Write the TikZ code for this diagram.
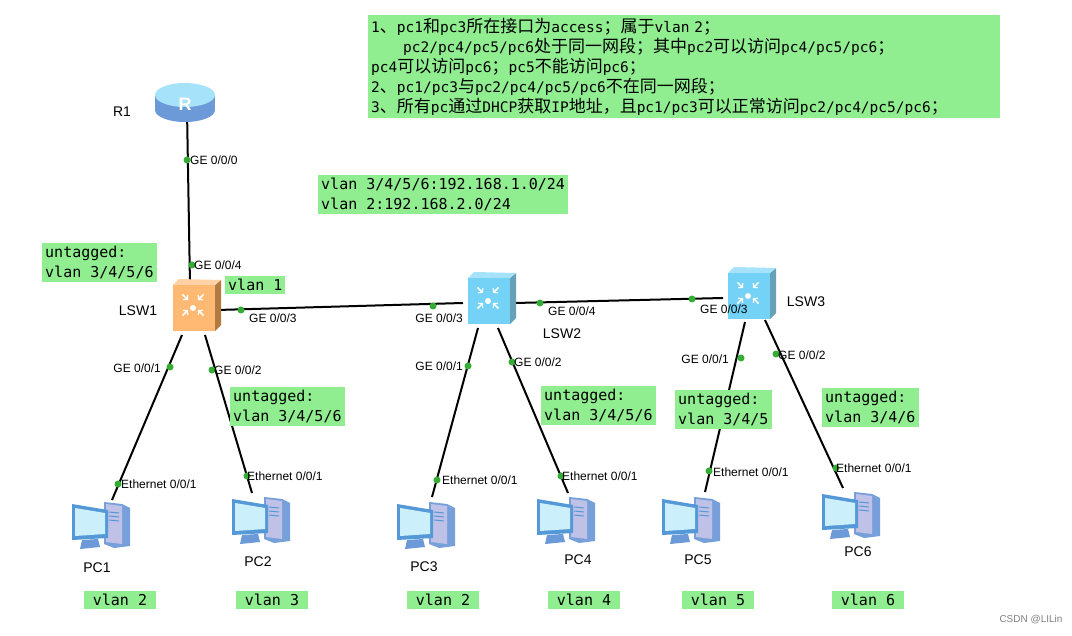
\documentclass[tikz,border=0pt]{standalone}
\usepackage{fontspec}
\setmainfont{Liberation Sans}
\newfontfamily\monof{DejaVu Sans Mono}
\newfontfamily\cjk{Noto Sans CJK SC}
\definecolor{lgreen}{RGB}{144,238,144}
\newcommand\cjt[1]{{\cjk\fontsize{17}{20}\selectfont #1}}
\begin{document}
\begin{tikzpicture}[x=1pt,y=-1pt,
  lnk/.style={line width=2pt,black},
  dot/.style={circle,fill=green!60!black!80,inner sep=0pt,minimum size=7pt},
  lab/.style={font=\fontsize{12}{13}\selectfont,inner sep=1pt},
  gbox/.style={fill=lgreen,font=\monof\fontsize{15}{20}\selectfont,align=left,inner sep=3pt,anchor=north west},
  nm/.style={font=\fontsize{14}{15}\selectfont}]
\useasboundingbox (0,0) rectangle (1072,636);
\fill[white] (0,0) rectangle (1072,636);
\def\pc#1#2{%
  \begin{scope}[shift={(#1,#2)}]
   \fill[cyan!50!blue!55] (4,-18) -- (22,-16) -- (30,-12) -- (30,26) -- (14,28) -- (4,24) -- cycle;
   \fill[cyan!25!blue!25] (6,-16) -- (22,-14) -- (22,24) -- (6,22) -- cycle;
   \foreach \yy in {-8,-4,0}{\draw[cyan!60!blue!70,line width=1pt] (9,\yy) -- (19,\yy+1);}
   \fill[cyan!60!blue!70] (-28,-16) -- (8,-10) -- (8,18) -- (-28,20) -- cycle;
   \fill[cyan!20] (-25,-12) -- (5,-7) -- (5,14) -- (-25,16) -- cycle;
   \fill[cyan!50!blue!60] (-18,20) -- (-2,19) -- (0,27) -- (-20,29) -- cycle;
  \end{scope}}
\def\sw#1#2#3{%
  \begin{scope}[shift={(#1,#2)}]
   \fill[#3!60!black!75] (22,-20) -- (28,-25) -- (28,20) -- (22,26) -- cycle;
   \fill[#3!35] (-20,-20) -- (-14,-26) -- (28,-25) -- (22,-20) -- cycle;
   \fill[#3!55] (-20,-20) rectangle (22,26);
   \foreach \a in {45,135,225,315}{\draw[white,line width=1.6pt,->] (\a:15) -- (\a:7);}
   \fill[white] (0,3) circle (3);
  \end{scope}}
% named link end points
\coordinate (R1) at (187,110);
\coordinate (s1u) at (190,285); \coordinate (s1r) at (217,310);
\coordinate (s2l) at (463,303); \coordinate (s2r) at (515,303);
\coordinate (s3l) at (723,298);
\coordinate (s1a) at (182,335); \coordinate (PC1) at (112,500);
\coordinate (s1b) at (205,335); \coordinate (PC2) at (252,493);
\coordinate (s2a) at (478,328); \coordinate (PC3) at (432,497);
\coordinate (s2b) at (498,328); \coordinate (PC4) at (568,493);
\coordinate (s3a) at (745,322); \coordinate (PC5) at (705,492);
\coordinate (s3b) at (765,320); \coordinate (PC6) at (843,488);
\draw[lnk] (R1) -- (s1u);
\draw[lnk] (s1r) -- (s2l);
\draw[lnk] (s2r) -- (s3l);
\draw[lnk] (s1a) -- (PC1);
\draw[lnk] (s1b) -- (PC2);
\draw[lnk] (s2a) -- (PC3);
\draw[lnk] (s2b) -- (PC4);
\draw[lnk] (s3a) -- (PC5);
\draw[lnk] (s3b) -- (PC6);
% router
\begin{scope}[shift={(185,100)}]
 \fill[cyan!50!blue!60] (-30,-5) rectangle (30,10);
 \fill[cyan!50!blue!60] (0,10) ellipse (30 and 12);
 \fill[cyan!35] (0,-5) ellipse (30 and 12);
 \node[white,font=\bfseries\fontsize{18}{18}\selectfont] at (0,4) {R};
\end{scope}
\node[nm] at (122,112) {R1};
\sw{193}{305}{orange}
\sw{488}{298}{cyan}
\sw{748}{293}{cyan}
\pc{100}{520}\pc{260}{515}\pc{425}{520}
\pc{565}{515}\pc{690}{515}\pc{850}{510}
% dots and labels
\node[dot] at (187,160) {}; \node[lab,anchor=west] at (189,160) {GE 0/0/0};
\node[dot] at (192,265) {}; \node[lab,anchor=west] at (193,265) {GE 0/0/4};
\node[dot] at (241,310) {}; \node[lab,anchor=west] at (248,318) {GE 0/0/3};
\node[dot] at (433,306) {}; \node[lab,anchor=east] at (464,318) {GE 0/0/3};
\node[dot] at (540,303) {}; \node[lab,anchor=west] at (547,311) {GE 0/0/4};
\node[dot] at (692,299) {}; \node[lab,anchor=west] at (699,309) {GE 0/0/3};
\node[dot] at (170,367) {}; \node[lab,anchor=east] at (162,368) {GE 0/0/1};
\node[dot] at (212,370) {}; \node[lab,anchor=west] at (213,370) {GE 0/0/2};
\node[dot] at (468,366) {}; \node[lab,anchor=east] at (464,366) {GE 0/0/1};
\node[dot] at (512,362) {}; \node[lab,anchor=west] at (513,362) {GE 0/0/2};
\node[dot] at (741,358) {}; \node[lab,anchor=east] at (730,359) {GE 0/0/1};
\node[dot] at (776,354) {}; \node[lab,anchor=west] at (777,355) {GE 0/0/2};
\node[dot] at (118,484) {}; \node[lab,anchor=west] at (120,484) {Ethernet 0/0/1};
\node[dot] at (247,476) {}; \node[lab,anchor=west] at (246,476) {Ethernet 0/0/1};
\node[dot] at (437,480) {}; \node[lab,anchor=west] at (441,480) {Ethernet 0/0/1};
\node[dot] at (561,476) {}; \node[lab,anchor=west] at (561,476) {Ethernet 0/0/1};
\node[dot] at (709,471) {}; \node[lab,anchor=west] at (712,472) {Ethernet 0/0/1};
\node[dot] at (836,468) {}; \node[lab,anchor=west] at (835,468) {Ethernet 0/0/1};
\node[nm] at (138,311) {LSW1};
\node[nm] at (562,334) {LSW2};
\node[nm] at (806,302) {LSW3};
\node[nm] at (97,568) {PC1};\node[nm] at (258,562) {PC2};\node[nm] at (424,567) {PC3};
\node[nm] at (578,560) {PC4};\node[nm] at (698,560) {PC5};\node[nm] at (858,552) {PC6};
% green boxes
\node[gbox] at (42,243) {untagged:\\vlan 3/4/5/6};
\node[gbox] at (225,276) {vlan 1};
\node[gbox] at (230,387) {untagged:\\vlan 3/4/5/6};
\node[gbox] at (541,386) {untagged:\\vlan 3/4/5/6};
\node[gbox] at (675,390) {untagged:\\vlan 3/4/5};
\node[gbox] at (822,388) {untagged:\\vlan 3/4/6};
\node[gbox] at (318,175) {vlan 3/4/5/6:192.168.1.0/24\\vlan 2:192.168.2.0/24};
\foreach \x/\t in {120/2,272/3,443/2,584/4,718/5,868/6}
  \node[gbox,anchor=center,minimum width=72pt] at (\x,600) {vlan \t};
\node[gbox,text width=626pt,font=\monof\fontsize{14.5}{20}\selectfont,inner sep=3pt] at (368,15)
 {1\cjt{、}pc1\cjt{和}pc3\cjt{所在接口为}access\cjt{；属于}vlan 2\cjt{；}\\
 \hspace*{2.2em}pc2/pc4/pc5/pc6\cjt{处于同一网段；其中}pc2\cjt{可以访问}pc4/pc5/pc6\cjt{；}\\
 pc4\cjt{可以访问}pc6\cjt{；}pc5\cjt{不能访问}pc6\cjt{；}\\
 2\cjt{、}pc1/pc3\cjt{与}pc2/pc4/pc5/pc6\cjt{不在同一网段；}\\
 3\cjt{、所有}pc\cjt{通过}DHCP\cjt{获取}IP\cjt{地址，且}pc1/pc3\cjt{可以正常访问}pc2/pc4/pc5/pc6\cjt{；}};
\node[gray,font=\fontsize{10}{11}\selectfont,anchor=east] at (1066,620) {CSDN @LILin};
\end{tikzpicture}
\end{document}
